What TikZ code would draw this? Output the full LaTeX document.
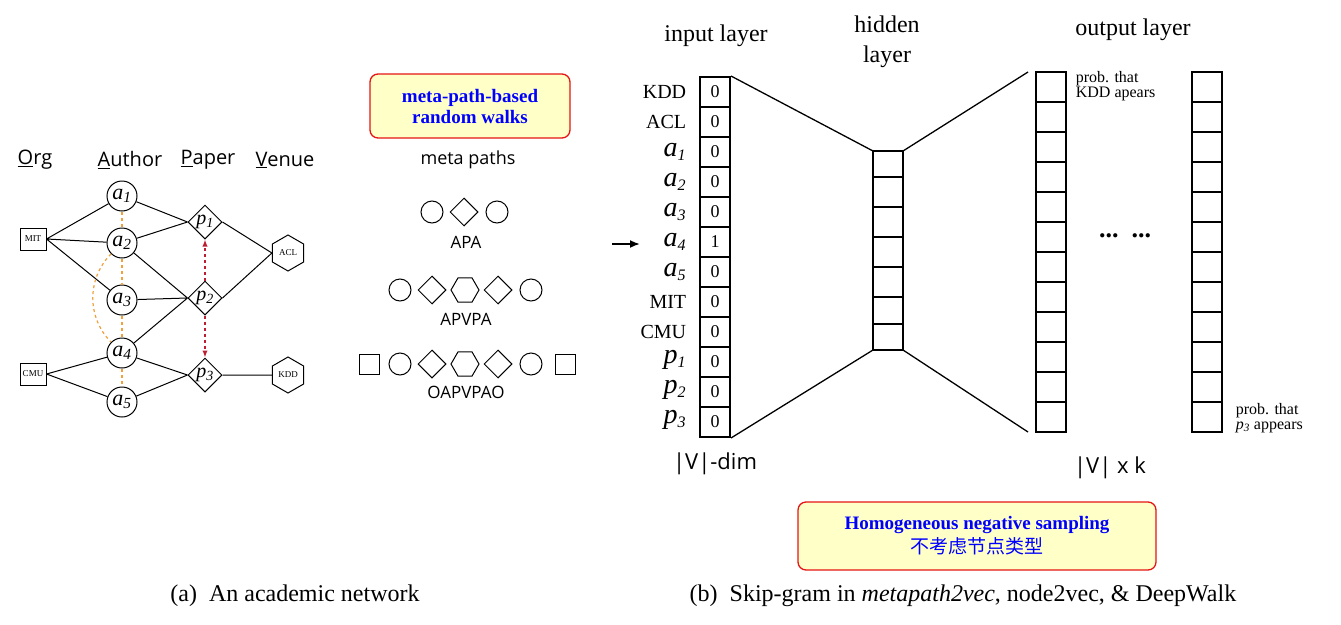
\documentclass[tikz,border=0pt]{standalone}
\usepackage{fontspec}
\setmainfont{Liberation Serif}
\newfontfamily\sansf{Open Sans}
\newfontfamily\cjk{Noto Sans CJK SC}
\usetikzlibrary{shapes.geometric,arrows.meta}
\definecolor{boxfill}{RGB}{255,255,200}
\definecolor{boxred}{RGB}{230,20,20}
\definecolor{orng}{RGB}{240,160,60}
\definecolor{dred}{RGB}{190,30,50}
\newcommand{\fs}[1]{\fontsize{#1}{#1}\selectfont}
\begin{document}
\begin{tikzpicture}[x=1pt,y=-1pt,line width=1pt,
  au/.style={circle,draw,minimum size=30pt,inner sep=0pt,font=\fs{22}\itshape},
  pa/.style={diamond,draw,minimum size=34pt,inner sep=0pt,font=\fs{20}\itshape},
  org/.style={rectangle,draw,minimum width=26pt,minimum height=22pt,inner sep=0pt,font=\fs{9}},
  ven/.style={regular polygon,regular polygon sides=6,shape border rotate=90,draw,minimum size=36pt,inner sep=0pt,font=\fs{9}},
  sc/.style={circle,draw,minimum size=22pt,inner sep=0pt},
  sd/.style={diamond,draw,minimum size=28pt,inner sep=0pt},
  sh/.style={regular polygon,regular polygon sides=6,draw,minimum size=28pt,inner sep=0pt},
  ss/.style={rectangle,draw,minimum size=20pt,inner sep=0pt},
  cell/.style={rectangle,draw,line width=2pt,minimum width=30pt,minimum height=30pt,inner sep=0pt,font=\fs{18}},
  hb/.style={rectangle,draw=boxred,fill=boxfill,rounded corners=8pt,line width=1.3pt,align=center,text=blue,font=\fs{19}\bfseries},
  hd/.style={font=\fontsize{24}{24}\selectfont,align=center},
  lab/.style={font=\fs{20},anchor=east}]
\useasboundingbox (0,0) rectangle (1341,624);
% left graph
\node[font=\sansf\fs{20}] (hO) at (35,160) {\underline{O}rg};
\node[font=\sansf\fs{20}] (hA) at (130,160) {\underline{A}uthor};
\node[font=\sansf\fs{20}] (hP) at (208,160) {\underline{P}aper};
\node[font=\sansf\fs{20}] (hV) at (285,160) {\underline{V}enue};
\node[au] (a1) at (122,196) {a\textsubscript{1}};
\node[au] (a2) at (122,243) {a\textsubscript{2}};
\node[au] (a3) at (122,300) {a\textsubscript{3}};
\node[au] (a4) at (122,353) {a\textsubscript{4}};
\node[au] (a5) at (122,402) {a\textsubscript{5}};
\node[org] (mit) at (33,239) {MIT};
\node[org] (cmu) at (33,374) {CMU};
\node[pa] (p1) at (205,222) {p\textsubscript{1}};
\node[pa] (p2) at (205,298) {p\textsubscript{2}};
\node[pa] (p3) at (205,375) {p\textsubscript{3}};
\node[ven] (acl) at (288,253) {ACL};
\node[ven] (kdd) at (288,375) {KDD};
\draw (mit.east)--(a1) (mit.east)--(a2) (mit.east)--(a3) (cmu.east)--(a4) (cmu.east)--(a5);
\draw (a1)--(p1.west) (a2)--(p1.west) (a2)--(p2.west) (a3)--(p2.west) (a4)--(p2.west) (a4)--(p3.west) (a5)--(p3.west);
\draw (p1.east)--(acl.west) (p2.east)--(acl.west) (p3.east)--(kdd.west);
\draw[orng,dashed,line width=1.2pt] (a1)--(a2) (a2)--(a3) (a3)--(a4) (a4)--(a5);
\draw[orng,dashed,line width=1.2pt] (a2.south west) to[out=225,in=135] (a4.north west);
\draw[dred,dashed,line width=1.2pt,-{Latex[length=7pt]}] (p2.north)--(p1.south);
\draw[dred,dashed,line width=1.2pt,-{Latex[length=7pt]}] (p2.south)--(p3.north);
% meta paths
\node[hb,minimum width=200pt,minimum height=64pt] (mb) at (470,106) {meta-path-based\\[2pt]random walks};
\node[font=\sansf\fs{18}] (mp) at (468,160) {meta paths};
\node[sc] (r1a) at (432,212) {}; \node[sd] (r1b) at (464,212) {}; \node[sc] (r1c) at (497,212) {};
\node[font=\sansf\fs{17}] (l1) at (466,242) {APA};
\node[sc] (r2a) at (400,290) {}; \node[sd] (r2b) at (432,290) {}; \node[sh] (r2c) at (465,290) {};
\node[sd] (r2d) at (498,290) {}; \node[sc] (r2e) at (531,290) {};
\node[font=\sansf\fs{17}] (l2) at (466,319) {APVPA};
\node[ss] (r3a) at (369,364) {}; \node[sc] (r3b) at (400,364) {}; \node[sd] (r3c) at (432,364) {};
\node[sh] (r3d) at (465,364) {}; \node[sd] (r3e) at (498,364) {}; \node[sc] (r3f) at (531,364) {};
\node[ss] (r3g) at (565,364) {};
\node[font=\sansf\fs{17}] (l3) at (466,392) {OAPVPAO};
% skip-gram
\node[hd] (hi) at (716,36) {input layer};
\node[hd,font=\fontsize{24}{30}\selectfont] (hh) at (887,42) {hidden\\layer};
\node[hd] (ho) at (1133,30) {output layer};
\foreach \v [count=\i] in {0,0,0,0,0,1,0,0,0,0,0,0}{
  \node[cell] (in\i) at (715,{77+30*\i-15}) {\v};
}
\node[lab] at (690,92) {KDD};
\node[lab] at (690,122) {ACL};
\foreach \t [count=\i] in {1,2,3,4,5}{
  \node[lab,font=\fs{28}\itshape] at (690,{122+30*\i}) {a\textsubscript{\fs{16}\t}};
}
\node[lab] (lm) at (690,302) {MIT};
\node[lab] at (690,332) {CMU};
\foreach \t [count=\i] in {1,2,3}{
  \node[lab,font=\fs{28}\itshape] at (690,{330+30*\i}) {p\textsubscript{\fs{16}\t}};
}
\coordinate (ar) at (612,244);
\coordinate (ae) at (640,244);
\draw[-{Latex[length=10pt,width=8pt]},line width=1.8pt] (ar)--(ae);
\draw[line width=2pt] (873,151) rectangle (903,350);
\foreach \y in {177,207,237,267,297,324}{\draw[line width=2pt] (873,\y)--(903,\y);}
\coordinate (ht) at (873,151); \coordinate (hbt) at (873,350);
\coordinate (htr) at (903,151); \coordinate (hbr) at (903,350);
\draw[line width=1.3pt] (in1.north east)--(ht) (in12.south east)--(hbt);
\draw[line width=1.3pt] (htr)--(1028,72) (hbr)--(1028,432);
\foreach \x in {1051,1207}{
  \foreach \i in {1,...,12}{\node[cell] at (\x,{72+30*\i-15}) {};}
}
\node[font=\fs{26}\bfseries] (dots) at (1125,236) {...\ \ ...};
\node[font=\fontsize{16}{15}\selectfont,align=left,anchor=west] (pk) at (1072,86) {prob. that\\KDD apears};
\node[font=\fontsize{16}{15}\selectfont,align=left,anchor=west] (pp) at (1232,418) {prob. that\\\textit{p\textsubscript{3}} appears};
\node[font=\sansf\fs{22}] (vd) at (715,464) {|V|-dim};
\node[font=\sansf\fs{22}] (vk) at (1110,468) {|V| x k};
\node[hb,minimum width=358pt,minimum height=68pt] (nb) at (977,536) {Homogeneous negative sampling\\[3pt]{\cjk\mdseries 不考虑节点类型}};
% captions
\node[font=\fs{24}] (ca) at (295,596) {(a)\ \ An academic network};
\node[font=\fs{24}] (cb) at (963,596) {(b)\ \ Skip-gram in \textit{metapath2vec}, node2vec, \& DeepWalk};
\end{tikzpicture}
\end{document}
